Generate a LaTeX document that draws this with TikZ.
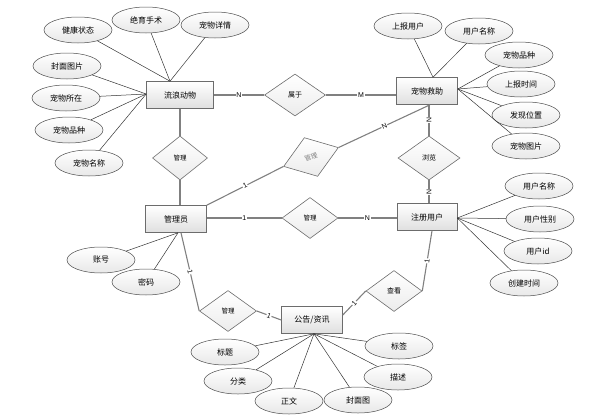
\documentclass[tikz,border=0pt]{standalone}
\usepackage{fontspec}
\setmainfont{Liberation Sans}
\newfontfamily\cjk{Noto Sans CJK SC}
\usetikzlibrary{shapes.geometric}
\begin{document}
\begin{tikzpicture}[x=1pt,y=-1pt,
 every node/.style={font=\cjk\fontsize{8}{9}\selectfont},
 ent/.style={draw=gray!85!black, rectangle, minimum width=61pt, minimum height=27pt, top color=white, bottom color=gray!25, inner sep=1pt, line width=0.6pt},
 attr/.style={draw=gray!60!black, ellipse, minimum width=68pt, minimum height=26pt, inner sep=0pt, top color=white, bottom color=gray!18, line width=0.5pt},
 rel/.style={draw=gray!85!black, diamond, minimum width=58pt, minimum height=42pt, inner sep=0pt, top color=white, bottom color=gray!15, line width=0.6pt, font=\cjk\fontsize{7}{8}\selectfont},
 al/.style={draw=black!80, line width=0.5pt},
 rl/.style={draw=gray, line width=1.1pt},
 card/.style={fill=white, inner sep=0.6pt, font=\fontsize{7}{8}\selectfont}
]
\useasboundingbox (0,0) rectangle (595,418);

% entities
\node[ent, minimum width=67pt] (lldw) at (180,95) {流浪动物};
\node[ent] (cwjz) at (427,91) {宠物救助};
\node[ent] (gly) at (176,219) {管理员};
\node[ent, minimum width=60pt] (zcyh) at (427,217) {注册用户};
\node[ent] (ggzx) at (312,320) {公告/资讯};

% relationships
\node[rel, minimum width=61pt] (sy) at (295,95) {属于};
\node[rel, minimum width=55pt, minimum height=44pt, font=\cjk\fontsize{6.5}{7}\selectfont] (gl1) at (180,158) {管理};
\node[rel, rotate=19, minimum width=58pt, minimum height=41pt, text=gray, font=\cjk\fontsize{6.5}{7}\selectfont] (gl2) at (311,157) {管理};
\node[rel, minimum width=62pt, minimum height=44pt] (ll) at (429,158) {浏览};
\node[rel, minimum width=56pt, minimum height=41pt, font=\cjk\fontsize{6.5}{7}\selectfont] (gl3) at (310,218) {管理};
\node[rel, minimum width=56pt, minimum height=41pt] (ck) at (394,291) {查看};
\node[rel, minimum width=57pt, minimum height=41pt, font=\cjk\fontsize{6.5}{7}\selectfont] (gl4) at (228,311) {管理};

% attributes of 流浪动物
\node[attr] (a1) at (78,30) {健康状态};
\node[attr] (a2) at (146,20) {绝育手术};
\node[attr] (a3) at (215,25) {宠物详情};
\node[attr] (a4) at (67,66) {封面图片};
\node[attr] (a5) at (66,98) {宠物所在};
\node[attr] (a6) at (69,130) {宠物品种};
\node[attr] (a7) at (89,163) {宠物名称};
% attributes of 宠物救助
\node[attr] (b1) at (408,26) {上报用户};
\node[attr] (b2) at (479,31) {用户名称};
\node[attr] (b3) at (519,55) {宠物品种};
\node[attr] (b4) at (521,84) {上报时间};
\node[attr] (b5) at (526,115) {发现位置};
\node[attr] (b6) at (526,146) {宠物图片};
% attributes of 注册用户
\node[attr] (c1) at (539,186) {用户名称};
\node[attr] (c2) at (540,219) {用户性别};
\node[attr] (c3) at (538,251) {用户id};
\node[attr] (c4) at (524,283) {创建时间};
% attributes of 管理员
\node[attr] (d1) at (101,260) {账号};
\node[attr] (d2) at (146,282) {密码};
% attributes of 公告/资讯
\node[attr] (e1) at (225,352) {标题};
\node[attr] (e2) at (238,381) {分类};
\node[attr] (e3) at (289,401) {正文};
\node[attr] (e4) at (358,400) {封面图};
\node[attr] (e5) at (398,377) {描述};
\node[attr] (e6) at (399,346) {标签};

% convergence points
\coordinate (pT) at ([xshift=-10pt]lldw.north);
\coordinate (pL) at ([yshift=1pt]lldw.west);
\coordinate (qT) at ([xshift=6pt]cwjz.north);
\coordinate (qR) at ([yshift=2pt]cwjz.east);
\coordinate (qB) at ([xshift=3pt]cwjz.south);
\coordinate (rR) at ([yshift=-1pt]zcyh.east);
\coordinate (rB) at ([xshift=5pt]zcyh.south);
\coordinate (sB) at ([xshift=2pt]gly.south);
\coordinate (sB2) at ([xshift=5pt]gly.south);
\coordinate (tB) at ([xshift=2pt]ggzx.south);
\coordinate (tR) at ([yshift=5pt]ggzx.east);

% attribute lines
\foreach \n in {a1,a2,a3} \draw[al] (pT) -- (\n);
\foreach \n in {a4,a5,a6,a7} \draw[al] (pL) -- (\n);
\foreach \n in {b1,b2} \draw[al] (qT) -- (\n);
\foreach \n in {b3,b4,b5,b6} \draw[al] (qR) -- (\n);
\foreach \n in {c1,c2,c3,c4} \draw[al] (rR) -- (\n);
\foreach \n in {d1,d2} \draw[al] (sB) -- (\n);
\foreach \n in {e1,e2,e3,e4,e5,e6} \draw[al] (tB) -- (\n);

% relationship lines
\draw[rl] (lldw.east) -- node[card]{N} (sy.west);
\draw[rl] (sy.east) -- node[card]{M} (sy.east -| cwjz.west);
\draw[rl] (lldw.south) -- (gl1.north);
\draw[rl] (gl1.south) -- (gl1.south |- gly.north);
\draw[rl] (gly.north east) -- node[card, sloped]{1} (gl2.west);
\draw[rl] (gl2.east) -- node[card, sloped]{N} (qB);
\draw[rl] (ll.north |- cwjz.south) -- node[card, sloped]{N} (ll.north);
\draw[rl] (ll.south) -- node[card, sloped]{N} (ll.south |- zcyh.north);
\draw[rl] (gl3.west -| gly.east) -- node[card]{1} (gl3.west);
\draw[rl] (gl3.east) -- node[card]{N} (gl3.east -| zcyh.west);
\draw[rl] (sB2) -- node[card, sloped]{1} (gl4.west);
\draw[rl] (gl4.east) -- node[card, sloped]{1} (ggzx.west);
\draw[rl] (ck.west) -- node[card, sloped]{1} (tR);
\draw[rl] (ck.east) -- node[card, sloped]{1} (rB);
\end{tikzpicture}
\end{document}
